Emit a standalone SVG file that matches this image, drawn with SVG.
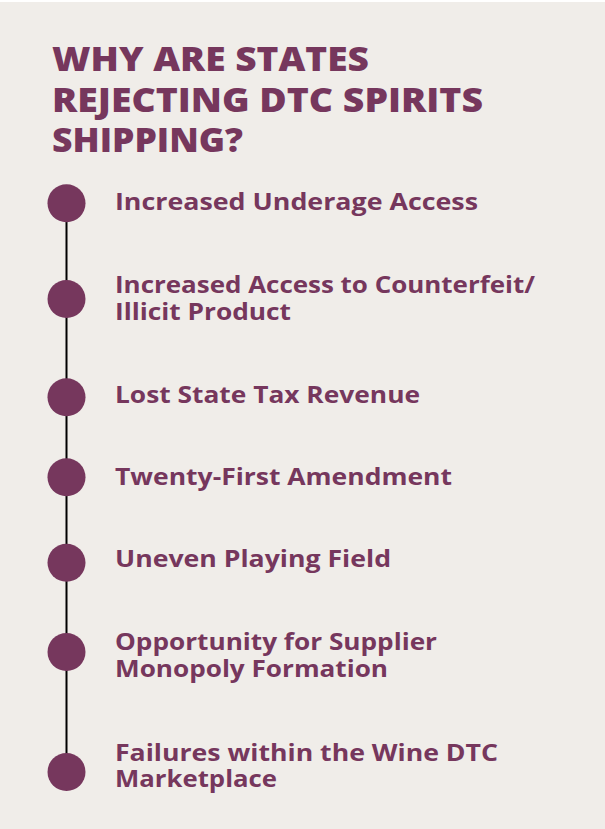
<svg xmlns="http://www.w3.org/2000/svg" width="605" height="829" viewBox="0 0 605 829">
<style>
.t{font-family:"Open Sans","Liberation Sans",sans-serif;font-weight:800;fill:#76375d}
.title{font-size:33px}
.item{font-size:24px;font-weight:700}
.dot{fill:#76375d}
.line{stroke:#000;stroke-width:2;fill:none}
</style>
<rect x="0" y="0" width="605" height="829" fill="#f0ede9"/>
<rect x="0" y="0" width="605" height="2" fill="#ffffff"/>
<g id="title">
<text class="t title" x="52" y="70.5" textLength="317" lengthAdjust="spacingAndGlyphs">WHY ARE STATES</text>
<text class="t title" x="52" y="111.5" textLength="431" lengthAdjust="spacingAndGlyphs">REJECTING DTC SPIRITS</text>
<text class="t title" x="52" y="151.5" textLength="191" lengthAdjust="spacingAndGlyphs">SHIPPING?</text>
</g>
<g id="connectors">
<line class="line" x1="66.5" y1="203" x2="66.5" y2="772"/>
</g>
<g id="n1"><circle class="dot" cx="66.5" cy="203.3" r="19"/>
<text class="t item" x="115" y="210" textLength="363" lengthAdjust="spacingAndGlyphs">Increased Underage Access</text></g>
<g id="n2"><circle class="dot" cx="66.5" cy="299" r="19"/>
<text class="t item" x="115" y="293.3" textLength="420" lengthAdjust="spacingAndGlyphs">Increased Access to Counterfeit/</text>
<text class="t item" x="115" y="320" textLength="176" lengthAdjust="spacingAndGlyphs">Illicit Product</text></g>
<g id="n3"><circle class="dot" cx="66.5" cy="397.3" r="19"/>
<text class="t item" x="115" y="403.3" textLength="305" lengthAdjust="spacingAndGlyphs">Lost State Tax Revenue</text></g>
<g id="n4"><circle class="dot" cx="66.5" cy="477.3" r="19"/>
<text class="t item" x="115" y="485" textLength="337" lengthAdjust="spacingAndGlyphs">Twenty-First Amendment</text></g>
<g id="n5"><circle class="dot" cx="66.5" cy="562.7" r="19"/>
<text class="t item" x="115" y="567.3" textLength="276" lengthAdjust="spacingAndGlyphs">Uneven Playing Field</text></g>
<g id="n6"><circle class="dot" cx="66.5" cy="652" r="19"/>
<text class="t item" x="115" y="650" textLength="322" lengthAdjust="spacingAndGlyphs">Opportunity for Supplier</text>
<text class="t item" x="115" y="677.3" textLength="273" lengthAdjust="spacingAndGlyphs">Monopoly Formation</text></g>
<g id="n7"><circle class="dot" cx="66.5" cy="772" r="19"/>
<text class="t item" x="115" y="760.7" textLength="383" lengthAdjust="spacingAndGlyphs">Failures within the Wine DTC</text>
<text class="t item" x="115" y="786.7" textLength="162" lengthAdjust="spacingAndGlyphs">Marketplace</text></g>
</svg>
